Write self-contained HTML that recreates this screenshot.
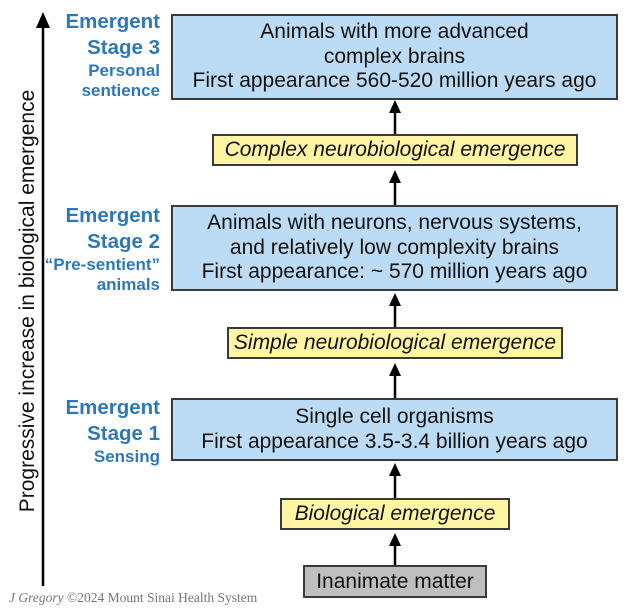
<!DOCTYPE html>
<html><head><meta charset="utf-8"><style>
body{margin:0;width:639px;height:612px;background:#fff;position:relative;overflow:hidden;font-family:"Liberation Sans",Arial,sans-serif;}
.b{position:absolute;box-sizing:border-box;border:2px solid #3a3a3a;display:flex;flex-direction:column;justify-content:center;align-items:center;text-align:center;color:#111;white-space:nowrap;}
.blue{background:#bcdcf5;font-size:21px;line-height:24.5px;left:171px;width:447px;}
.yel{background:#fff5a3;font-style:italic;font-size:21px;height:32px;}
.lab{position:absolute;right:479px;text-align:right;color:#2e78b8;font-weight:bold;white-space:nowrap;}
.lab .a{font-size:20.5px;line-height:26px}
.lab .s{font-size:17px;line-height:20px}
</style></head><body>
<svg width="639" height="612" style="position:absolute;left:0;top:0">
<g stroke="#000" stroke-width="2.5"><line x1="43" y1="26" x2="43" y2="586"/>
<line x1="395" y1="112" x2="395" y2="135"/><line x1="395" y1="183" x2="395" y2="205"/>
<line x1="395" y1="305" x2="395" y2="327"/><line x1="395" y1="375" x2="395" y2="398"/>
<line x1="395" y1="476" x2="395" y2="498"/><line x1="395" y1="546" x2="395" y2="565"/></g>
<g fill="#000"><polygon points="36,28 50,28 43,12"/>
<polygon points="389,113 401,113 395,100"/><polygon points="389,183 401,183 395,170"/>
<polygon points="389,306 401,306 395,293"/><polygon points="389,376 401,376 395,363"/>
<polygon points="389,476 401,476 395,463"/><polygon points="389,546 401,546 395,533"/></g>
<text x="0" y="0" transform="translate(34,301) rotate(-90)" text-anchor="middle" font-family="Liberation Sans,Arial,sans-serif" font-size="21" fill="#111">Progressive increase in biological emergence</text>
</svg>
<div class="b blue" style="top:14px;height:86px">Animals with more advanced<br>complex brains<br>First appearance 560-520 million years ago</div>
<div class="b yel" style="left:212px;width:366px;top:134px">Complex neurobiological emergence</div>
<div class="b blue" style="top:205px;height:86px">Animals with neurons, nervous systems,<br>and relatively low complexity brains<br>First appearance: ~ 570 million years ago</div>
<div class="b yel" style="left:227px;width:336px;top:327px">Simple neurobiological emergence</div>
<div class="b blue" style="top:398px;height:63px">Single cell organisms<br>First appearance 3.5-3.4 billion years ago</div>
<div class="b yel" style="left:280px;width:230px;top:498px">Biological emergence</div>
<div class="b" style="left:303px;width:184px;top:565px;height:33px;background:#bfbfbf;font-size:21px">Inanimate matter</div>
<div class="lab" style="top:9px"><div class="a">Emergent<br>Stage 3</div><div class="s">Personal<br>sentience</div></div>
<div class="lab" style="top:203px"><div class="a">Emergent<br>Stage 2</div><div class="s">“Pre-sentient”<br>animals</div></div>
<div class="lab" style="top:395px"><div class="a">Emergent<br>Stage 1</div><div class="s">Sensing</div></div>
<div style="position:absolute;left:9px;top:590px;font-family:'Liberation Serif',serif;font-size:13.5px;color:#777;white-space:nowrap"><i>J Gregory</i> ©2024 Mount Sinai Health System</div>
</body></html>
